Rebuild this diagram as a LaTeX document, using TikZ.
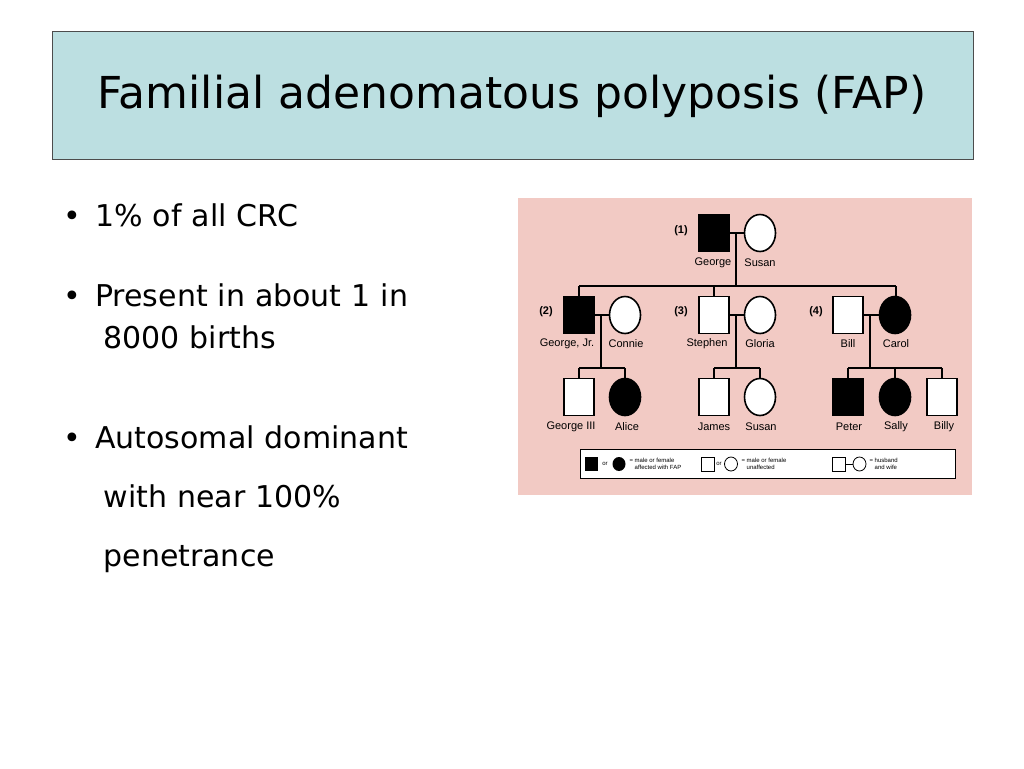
\documentclass[tikz,border=0pt]{standalone}
\usepackage{fontspec}
\usetikzlibrary{shapes.geometric}
\setmainfont{DejaVu Sans}
\newfontfamily\pedfont{Liberation Sans}
\definecolor{titlebg}{RGB}{188,223,225}
\definecolor{pinkbg}{RGB}{242,202,196}
\begin{document}
\begin{tikzpicture}[x=1pt,y=-1pt,
  sq/.style={draw,line width=1.6pt,minimum width=30pt,minimum height=37pt,inner sep=0pt},
  ci/.style={draw,line width=1.6pt,ellipse,minimum width=31pt,minimum height=37pt,inner sep=0pt},
  aff/.style={fill=black},
  un/.style={fill=white},
  lab/.style={font=\pedfont\fontsize{11}{12}\selectfont},
  gen/.style={font=\pedfont\bfseries\fontsize{11}{12}\selectfont},
  ln/.style={line width=1.4pt},
  bul/.style={anchor=west,font=\fontsize{30}{36}\selectfont,text width=380pt,align=left}]
\useasboundingbox (0,0) rectangle (1024,768);
\fill[white] (0,0) rectangle (1024,768);
\node[draw=black!70,fill=titlebg,minimum width=921pt,minimum height=128pt,anchor=north west] (tb) at (52,31) {};
\node[font=\fontsize{44}{50}\selectfont] (title) at (512,96) {Familial adenomatous polyposis (FAP)};
\node[bul] (b1) at (60,215) {•\hspace{14pt}1\% of all CRC};
\node[bul,anchor=north west] (b2) at (60,280) {\parbox[t]{360pt}{\hangindent=40pt\hangafter=1\baselineskip=42pt •\hspace{14pt}Present in about 1 in\\ 8000 births}};
\node[bul,anchor=north west] (b3) at (60,422) {\parbox[t]{360pt}{\hangindent=40pt\hangafter=1\baselineskip=59pt •\hspace{14pt}Autosomal dominant\\ with near 100\%\\ penetrance}};
\fill[pinkbg] (518,198) rectangle (972,495);
% lines
\draw[ln] (730,233) -- (744,233);
\draw[ln] (736,233) -- (736,286);
\draw[ln] (579,286) -- (896,286);
\draw[ln] (579,286) -- (579,297);
\draw[ln] (714,286) -- (714,297);
\draw[ln] (896,286) -- (896,297);
\draw[ln] (595,315) -- (610,315) (601,315) -- (601,368) (579,368) -- (625,368) (579,368)--(579,379) (625,368)--(625,379);
\draw[ln] (730,315) -- (745,315) (736,315) -- (736,368) (714,368) -- (760,368) (714,368)--(714,379) (760,368)--(760,379);
\draw[ln] (863,315) -- (880,315) (870,315) -- (870,368) (848,368) -- (942,368) (848,368)--(848,379) (895,368)--(895,379) (942,368)--(942,379);
% gen1
\node[sq,aff] (george) at (714,233) {};
\node[ci,un] (susan) at (760,233) {};
\node[gen] (g1) at (681,231) {(1)};
\node[lab] (lg) at (713,263) {George};
\node[lab] (ls) at (760,263) {Susan};
% gen2
\node[sq,aff] (gj) at (579,315) {};
\node[ci,un] (connie) at (625,315) {};
\node[sq,un] (steph) at (714,315) {};
\node[ci,un] (gloria) at (760,315) {};
\node[sq,un] (bill) at (848,315) {};
\node[ci,aff] (carol) at (895,315) {};
\node[gen] (g2) at (546,312) {(2)};
\node[gen] (g3) at (681,312) {(3)};
\node[gen] (g4) at (816,312) {(4)};
\node[lab] at (567,344) {George, Jr.};
\node[lab] at (626,344) {Connie};
\node[lab] at (707,344) {Stephen};
\node[lab] at (760,344) {Gloria};
\node[lab] at (848,344) {Bill};
\node[lab] at (896,344) {Carol};
% gen3
\node[sq,un] (g3a) at (579,397) {};
\node[ci,aff] (alice) at (625,397) {};
\node[sq,un] (james) at (714,397) {};
\node[ci,un] (susan2) at (760,397) {};
\node[sq,aff] (peter) at (848,397) {};
\node[ci,aff] (sally) at (895,397) {};
\node[sq,un] (billy) at (942,397) {};
\node[lab] at (571,427) {George III};
\node[lab] at (627,427) {Alice};
\node[lab] at (714,427) {James};
\node[lab] at (761,427) {Susan};
\node[lab] at (849,427) {Peter};
\node[lab] at (896,427) {Sally};
\node[lab] at (944,427) {Billy};
% legend
\node[draw,fill=white,line width=1.2pt,minimum width=375pt,minimum height=29pt,anchor=north west] (leg) at (580,449) {};
\begin{scope}[font=\pedfont\fontsize{6}{6.5}\selectfont]
\fill (585,457) rectangle (598,471);
\node at (605,464) {or};
\fill (619,464) ellipse (6.5pt and 7pt);
\node[align=left,anchor=west] at (626,464) {= male or female\\\phantom{= }affected with FAP};
\draw[line width=0.8pt] (701,457) rectangle (714,471);
\node at (719,464) {or};
\draw[line width=0.8pt] (731,464) ellipse (6.5pt and 7pt);
\node[align=left,anchor=west] at (738,464) {= male or female\\\phantom{= }unaffected};
\draw[line width=0.8pt] (832,457) rectangle (845,471);
\draw[line width=0.8pt] (845,464) -- (853,464);
\draw[line width=0.8pt] (859.5,464) ellipse (6.5pt and 7pt);
\node[align=left,anchor=west] at (866,464) {= husband\\\phantom{= }and wife};
\end{scope}
\end{tikzpicture}
\end{document}
